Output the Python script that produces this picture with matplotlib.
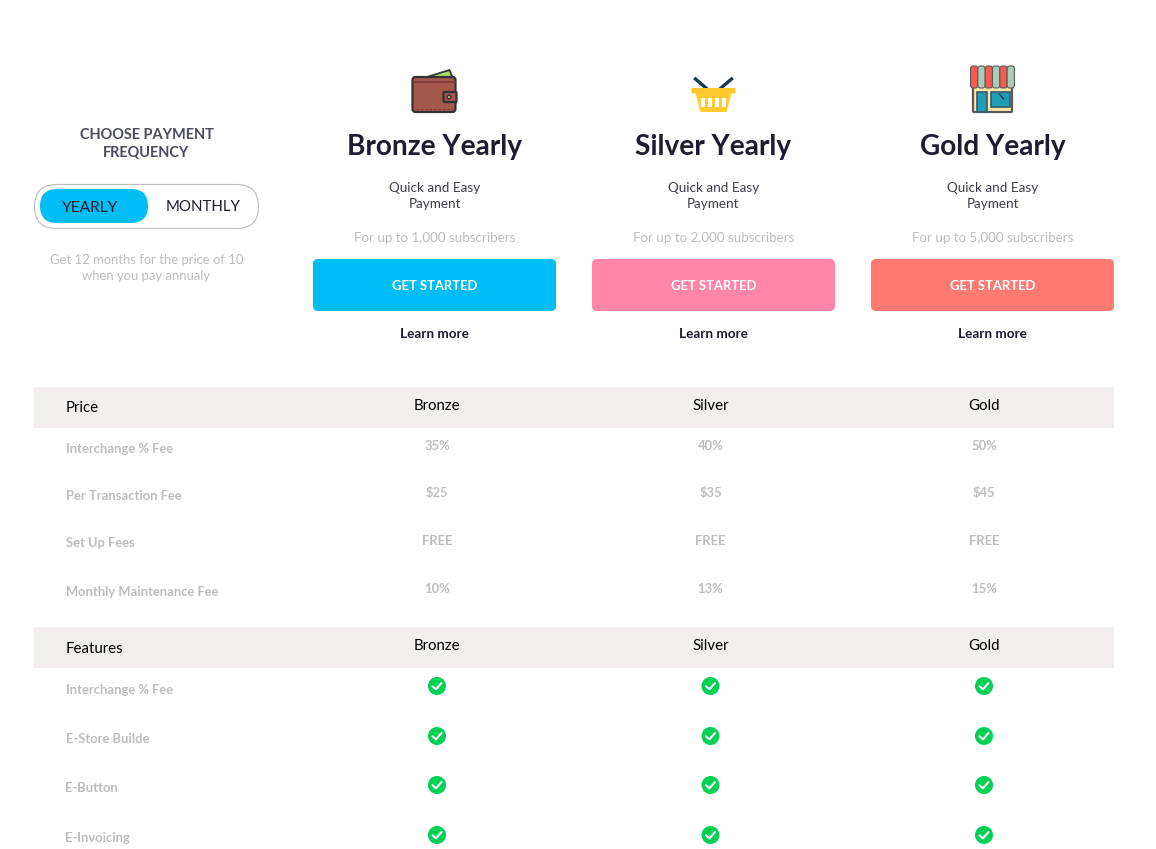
import matplotlib
matplotlib.use("Agg")
import matplotlib.pyplot as plt
from matplotlib.patches import FancyBboxPatch, Rectangle, Circle, Polygon

plt.rcParams['font.family'] = ['Lato', 'DejaVu Sans']

# data
plans = ['Bronze', 'Silver', 'Gold']
subscribers = ['1,000', '2,000', '5,000']
btn_colors = ['#00BDF6', '#FF86A9', '#FF7A72']
price_rows = ['Interchange % Fee', 'Per Transaction Fee', 'Set Up Fees', 'Monthly Maintenance Fee']
price_vals = [['35%', '40%', '50%'], ['$25', '$35', '$45'], ['FREE', 'FREE', 'FREE'], ['10%', '13%', '15%']]
feature_rows = ['Interchange % Fee', 'E-Store Builde', 'E-Button', 'E-Invoicing']

DARK = '#1D1D2F'
GREY = '#BDBDBD'
BAND = '#F2EEEE'
GREEN = '#00D154'

# layout, in pixels
plan_x = [434.5, 713.5, 992.5]
col_x = [437, 710.5, 984]
price_y = [445.5, 492.5, 540, 588]
price_label_y = [448, 495, 542, 591]
feat_y = [686, 736, 785, 835]
feat_label_y = [689, 738, 787, 837]

fig = plt.figure(figsize=(11.56, 8.49), dpi=100)
ax = fig.add_axes([0, 0, 1, 1])
ax.set_xlim(0, 1156)
ax.set_ylim(849, 0)
ax.axis('off')


def txt(x, y, s, size, color=DARK, weight='normal', ha='center'):
    # baseline placed from the cap height so rows stay level with or without descenders
    ax.text(x, y + size * 0.36, s, fontsize=size * 0.72, color=color, fontweight=weight,
            ha=ha, va='baseline', zorder=5)


def rbox(x, y, w, h, r, fc, ec='none', lw=0, z=1):
    ax.add_patch(FancyBboxPatch((x + r, y + r), w - 2 * r, h - 2 * r,
                                boxstyle='round,pad=%s,rounding_size=%s' % (r, r),
                                fc=fc, ec=ec, lw=lw, zorder=z))


def wallet(cx, cy):
    ax.add_patch(Polygon([[cx - 14, cy - 13], [cx + 15, cy - 22], [cx + 19, cy - 12]],
                         fc='#A5E065', ec='#333333', lw=1.3, zorder=2))
    rbox(cx - 22, cy - 15, 43, 35, 3, '#A5574B', '#333333', 1.6, 3)
    ax.plot([cx - 21, cx + 20], [cy - 10, cy - 10], color='#7C3F37', lw=1.2, zorder=4)
    ax.plot([cx - 19, cx + 18], [cy + 17, cy + 17], color='#7C3F37', lw=0.8, ls=(0, (2, 2)), zorder=4)
    rbox(cx + 9, cy, 13, 10, 1, '#A5574B', '#333333', 1.6, 4)
    ax.add_patch(Circle((cx + 14.5, cy + 5), 1.8, fc='#D9B26A', ec='#333333', lw=1, zorder=5))


def basket(cx, cy):
    ax.plot([cx - 18, cx - 4], [cy - 13, cy - 1], color='#17394A', lw=2.4, zorder=2)
    ax.plot([cx + 18, cx + 4], [cy - 13, cy - 1], color='#17394A', lw=2.4, zorder=2)
    ax.add_patch(Polygon([[cx - 18, cy + 1], [cx + 18, cy + 1], [cx + 13, cy + 20], [cx - 13, cy + 20]],
                         fc='#FFCB2E', ec='none', zorder=3))
    rbox(cx - 22, cy - 4, 44, 5.5, 1, '#FFC82C', z=4)
    for dx in [-12.5, -5.5, 1.5, 8.5]:
        ax.add_patch(Rectangle((cx + dx, cy + 6), 3.5, 9, fc='white', ec='none', zorder=4))


def shop(cx, cy):
    rbox(cx - 19.5, cy - 6, 39, 26, 1, '#FFE9A8', '#5A5A5A', 1.6, 2)
    ax.add_patch(Rectangle((cx - 15.5, cy), 10, 20, fc='#1F9DB5', ec='#3B5A66', lw=1.2, zorder=3))
    ax.add_patch(Rectangle((cx - 1.5, cy), 19, 15, fc='#1F9DB5', ec='#3B5A66', lw=1.2, zorder=3))
    ax.plot([cx + 7, cx + 11], [cy + 2, cy + 7], color='#17394A', lw=1, zorder=4)
    cols = ['#F9594F', '#A9CDB8'] * 3
    for i, c in enumerate(cols):
        rbox(cx - 22 + i * 7.33, cy - 26, 7.33, 22, 2.5, c, '#5A5A5A', 0.8, 3)


# left panel
txt(146.5, 133.5, 'CHOOSE PAYMENT', 14.5, '#4A4B5C', 'bold')
txt(146.5, 151.5, 'FREQUENCY', 14.5, '#4A4B5C', 'bold')
rbox(34.5, 184.5, 224, 44, 22, 'white', '#BDBDBD', 0.8, 1)
rbox(40, 189, 108, 34, 17, '#00BDF6', z=2)
txt(90, 206, 'YEARLY', 15.5)
txt(203, 206, 'MONTHLY', 15)
txt(146.5, 259, 'Get 12 months for the price of 10', 13, GREY)
txt(146.5, 275, 'when you pay annualy', 13, GREY)

# plan columns
wallet(plan_x[0], 92)
basket(plan_x[1], 92)
shop(plan_x[2], 92)
for x, name, subs, col in zip(plan_x, plans, subscribers, btn_colors):
    txt(x, 144.5, name + ' Yearly', 28, DARK, 'bold')
    txt(x, 187.5, 'Quick and Easy', 13.5, '#3D3D4D')
    txt(x, 203.5, 'Payment', 13.5, '#3D3D4D')
    txt(x, 237.5, 'For up to %s subscribers' % subs, 13.4, GREY)
    rbox(x - 121.5, 259, 243, 52, 5, col)
    txt(x, 285, 'GET STARTED', 13, 'white', 'bold')
    txt(x, 333.5, 'Learn more', 13.5, DARK, 'bold')

# price table
ax.add_patch(Rectangle((34, 387), 1080, 41, fc=BAND, ec='none'))
txt(65.5, 407, 'Price', 15, 'black', ha='left')
for x, name in zip(col_x, plans):
    txt(x, 405, name, 15, 'black')
for y, ly, label, vals in zip(price_y, price_label_y, price_rows, price_vals):
    txt(65.5, ly, label, 13, GREY, 'bold', ha='left')
    for x, v in zip(col_x, vals):
        txt(x, y, v, 13, GREY, 'bold')

# features table
ax.add_patch(Rectangle((34, 627), 1080, 41, fc=BAND, ec='none'))
txt(65.5, 648, 'Features', 15, 'black', ha='left')
for x, name in zip(col_x, plans):
    txt(x, 645, name, 15, 'black')
for y, ly, label in zip(feat_y, feat_label_y, feature_rows):
    txt(65.5, ly, label, 13, GREY, 'bold', ha='left')
    for x in col_x:
        ax.add_patch(Circle((x, y), 9, fc=GREEN, ec='none', zorder=2))
        ax.plot([x - 4.5, x - 1, x + 4.5], [y + 0.3, y + 3.3, y - 3], color='white', lw=1.5,
                solid_capstyle='round', solid_joinstyle='round', zorder=3)

fig.savefig('out.png', dpi=100)
